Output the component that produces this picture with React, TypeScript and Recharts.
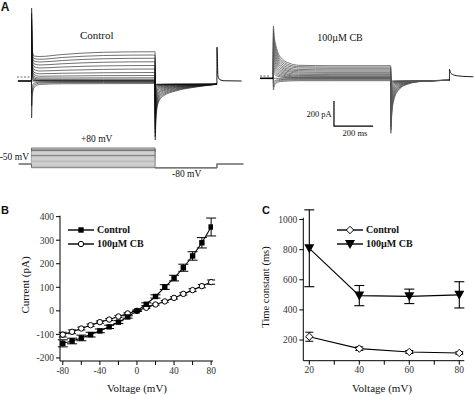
import React from 'react';
import { LineChart, Line, XAxis, YAxis, ErrorBar } from 'recharts';

const SERIF = "'Liberation Serif', 'Times New Roman', serif";
const SANS = "'Liberation Sans', Arial, sans-serif";

// ---------- panel A: current traces (pA, relative to holding) ----------
const stepVoltages = [80, 70, 60, 50, 40, 30, 20, 10, 0, -10, -20, -30, -40, -50, -60, -70, -80];

const ctlStepT = [0, 0.4, 4, 12, 40, 150, 350, 600];
const ctlStep = [
  [0, 584, 250, 200, 196, 212, 230, 234],
  [0, 540, 228, 180, 174, 188, 204, 208],
  [0, 495, 205, 160, 152, 164, 178, 182],
  [0, 450, 182, 138, 128, 138, 150, 154],
  [0, 405, 160, 115, 104, 112, 121, 124],
  [0, 360, 138, 92, 80, 86, 93, 96],
  [0, 315, 116, 70, 58, 62, 66, 68],
  [0, 270, 96, 52, 38, 40, 43, 44],
  [0, 225, 78, 36, 24, 24, 25, 26],
  [0, 180, 60, 24, 14, 13, 14, 14],
  [0, 135, 44, 14, 7, 6, 6, 6],
  [0, 90, 28, 7, 3, 2, 2, 2],
  [0, 45, 14, 3, 1, 0, 0, 0],
  [0, 0, 0, 0, 0, 0, 0, 0],
  [0, -100, -44, -18, -9, -7, -6, -6],
  [0, -200, -84, -34, -17, -13, -12, -12],
  [0, -296, -124, -52, -27, -22, -21, -20],
];
const ctlTailT = [600.4, 604, 615, 640, 700, 800, 900];
const ctlTail = [
  [-472, -300, -176, -120, -80, -48, -26],
  [-445, -275, -162, -110, -74, -45, -26],
  [-415, -250, -148, -100, -68, -42, -26],
  [-385, -225, -134, -90, -62, -40, -26],
  [-355, -200, -120, -80, -56, -38, -26],
  [-325, -178, -106, -72, -51, -36, -26],
  [-295, -156, -94, -64, -46, -34, -26],
  [-265, -135, -82, -56, -42, -32, -26],
  [-235, -116, -70, -49, -38, -30, -26],
  [-205, -98, -60, -43, -34, -29, -26],
  [-175, -82, -51, -38, -31, -28, -26],
  [-145, -68, -43, -33, -29, -27, -26],
  [-115, -55, -37, -30, -27, -26, -26],
  [-85, -44, -32, -28, -26, -26, -26],
  [-60, -36, -29, -27, -26, -26, -26],
  [-40, -30, -27, -26, -26, -26, -26],
  [-26, -26, -26, -26, -26, -26, -26],
];
const ctlPreT = [-66, 0];
const ctlPre = [0, 0];
const ctlDashT = [-70, -8];
const ctlDash = [32, 32];
const ctlPostT = [900, 900.4, 905, 915, 935, 1020];
const ctlPost = [-26, 270, 40, 10, 2, 0];

const cbStepT = [0, 0.4, 4, 10, 25, 50, 80, 130, 300, 600];
const cbStep = [
  [0, 418, 340, 285, 200, 148, 122, 104, 101, 101],
  [0, 390, 310, 260, 182, 134, 108, 93, 90, 90],
  [0, 360, 285, 238, 164, 120, 96, 83, 80, 80],
  [0, 330, 258, 214, 146, 106, 83, 71, 68, 68],
  [0, 300, 232, 190, 128, 92, 72, 61, 58, 58],
  [0, 270, 205, 168, 112, 80, 61, 51, 48, 48],
  [0, 240, 180, 146, 96, 68, 52, 42, 40, 40],
  [0, 210, 155, 124, 80, 56, 41, 32, 30, 30],
  [0, 180, 130, 102, 66, 45, 31, 23, 21, 21],
  [0, 150, 105, 82, 52, 35, 23, 16, 14, 14],
  [0, 120, 82, 62, 38, 25, 15, 9, 8, 8],
  [0, 90, 60, 44, 26, 16, 9, 5, 4, 4],
  [0, 60, 38, 27, 15, 8, 4, 2, 1, 1],
  [0, 0, 0, 0, 0, 0, 0, 0, 0, 0],
  [0, -40, -25, -18, -12, -9, -7, -6, -6, -6],
  [0, -70, -45, -30, -20, -15, -13, -12, -12, -12],
  [0, -94, -65, -45, -30, -24, -21, -19, -19, -19],
];
const cbTailT = [600.4, 605, 615, 640, 690, 760, 900];
const cbTail = [
  [-440, -300, -180, -94, -45, -25, -16],
  [-412, -278, -166, -87, -42, -24, -16],
  [-385, -256, -152, -80, -40, -24, -16],
  [-357, -234, -138, -73, -38, -23, -16],
  [-330, -212, -124, -66, -36, -23, -16],
  [-302, -190, -110, -59, -34, -22, -16],
  [-275, -168, -96, -52, -32, -22, -16],
  [-247, -146, -82, -46, -30, -21, -16],
  [-220, -124, -70, -40, -28, -21, -16],
  [-192, -104, -60, -36, -27, -21, -16],
  [-165, -86, -50, -32, -26, -21, -16],
  [-137, -70, -42, -29, -25, -21, -16],
  [-110, -56, -36, -27, -24, -21, -16],
  [-82, -44, -30, -25, -23, -21, -16],
  [-55, -34, -26, -23, -22, -20, -16],
  [-35, -26, -23, -22, -21, -20, -16],
  [-22, -21, -21, -21, -20, -20, -16],
];
const cbPreT = [-68, 0];
const cbPre = [0, 0];
const cbDashT = [-68, -17];
const cbDash = [18, 18];
const cbPostT = [900, 900.4, 905, 915, 940, 990, 1022];
const cbPost = [-16, 72, 45, 32, 20, 14, 12];

// scale bar: 200 pA / 200 ms
const scaleBarOrigin = { t: 310, v: -382 };
const scaleBarPA = 200;
const scaleBarMS = 200;

// voltage protocol (mV)
const protoT = [-61, 0, 0, 600, 600, 900, 900, 1027];
const holdingMV = -50;
const tailMV = -80;

// ---------- panel B: I-V ----------
const ivVoltage = [-80, -70, -60, -50, -40, -30, -20, -10, 0, 10, 20, 30, 40, 50, 60, 70, 80];
const ivControl = [-138, -128, -115, -101, -85, -68, -48, -26, 0, 28, 61, 101, 139, 183, 233, 289, 356];
const ivControlErr = [15, 12, 12, 10, 8, 7, 6, 5, 3, 6, 7, 10, 12, 15, 18, 22, 38];
const ivCB = [-101, -89, -75, -61, -48, -37, -24, -11, 0, 13, 27, 40, 55, 72, 88, 105, 122];
const ivCBErr = [10, 8, 6, 5, 5, 4, 4, 3, 3, 3, 3, 4, 5, 5, 6, 7, 9];
const ivXTicks = [-80, -60, -40, -20, 0, 20, 40, 60, 80];
const ivYTicks = [-200, -100, 0, 100, 200, 300, 400];

// ---------- panel C: time constants ----------
const tauVoltage = [20, 40, 60, 80];
const tauControl = [222, 143, 121, 114];
const tauControlErr = [30, 12, 10, 8];
const tauCB = [809, 495, 490, 500];
const tauCBErr = [255, 67, 48, 87];
const tauXTicks = [20, 30, 40, 50, 60, 70, 80];
const tauYTicks = [200, 400, 600, 800, 1000];

const pts = (ts: number[], vs: number[]) => ts.map((t, i) => ({ t, v: vs[i] }));

const ivRows = ivVoltage.map((v, i) => ({
  v, ctl: ivControl[i], ctlErr: ivControlErr[i], cb: ivCB[i], cbErr: ivCBErr[i],
}));
const tauRows = tauVoltage.map((v, i) => ({
  v, ctl: tauControl[i], ctlErr: tauControlErr[i], cb: tauCB[i], cbErr: tauCBErr[i],
}));

function Txt({ x, y, size, children, anchor = 'middle', rotate = false, bold = false, family = SERIF }: any) {
  const tx = anchor === 'middle' ? '-50%' : anchor === 'end' ? '-100%' : '0';
  return (
    <div style={{
      position: 'absolute', left: x, top: y, fontSize: size, fontFamily: family, lineHeight: 1,
      fontWeight: bold ? 'bold' : 'normal', color: '#111', whiteSpace: 'nowrap',
      transform: `translate(${tx}, -50%)${rotate ? ' rotate(-90deg)' : ''}`,
      transformOrigin: rotate ? '50% 50%' : undefined,
    }}>{children}</div>
  );
}

const hidden = { hide: true, type: 'number' as const, allowDataOverflow: true };

function TraceChart({ left, width, domainT, domainV, stepT, step, tailT, tail, preT, pre, dashT, dash, postT, post, stroke, sw, scale }: any) {
  return (
    <div style={{ position: 'absolute', left, top: 0 }}>
      <LineChart width={width} height={150} margin={{ top: 0, right: 0, bottom: 0, left: 0 }}>
        <XAxis dataKey="t" domain={domainT} {...hidden} />
        <YAxis domain={domainV} {...hidden} />
        {step.map((row: number[], i: number) => (
          <Line key={i} data={[...pts(stepT, row), ...pts(tailT, tail[i])]} dataKey="v" type="monotone"
            stroke={stroke} strokeWidth={sw} dot={false} activeDot={false} isAnimationActive={false} />
        ))}
        <Line data={pts(preT, pre)} dataKey="v" stroke="#000" strokeWidth={1.6} dot={false} isAnimationActive={false} />
        <Line data={pts(dashT, dash)} dataKey="v" stroke="#444" strokeWidth={0.8} strokeDasharray="2 1.5" dot={false} isAnimationActive={false} />
        <Line data={pts(postT, post)} dataKey="v" type="monotone" stroke="#000" strokeWidth={0.9} dot={false} isAnimationActive={false} />
        {scale && (
          <Line data={[
            { t: scale.t, v: scale.v + scaleBarPA },
            { t: scale.t, v: scale.v },
            { t: scale.t + scaleBarMS, v: scale.v },
          ]} dataKey="v" stroke="#000" strokeWidth={1.2} dot={false} isAnimationActive={false} />
        )}
      </LineChart>
    </div>
  );
}

function ProtocolChart() {
  return (
    <div style={{ position: 'absolute', left: 0, top: 135 }}>
      <LineChart width={245} height={40} margin={{ top: 0, right: 0, bottom: 0, left: 0 }}>
        <XAxis dataKey="t" domain={[-152.9, 1036.4]} {...hidden} />
        <YAxis domain={[-139.4, 185.8]} {...hidden} />
        {stepVoltages.map((mv, i) => {
          const vals = [holdingMV, holdingMV, mv, mv, tailMV, tailMV, holdingMV, holdingMV];
          const edge = i < 3 || i === 6 || i === stepVoltages.length - 1;
          return (
            <Line key={mv} data={pts(protoT, vals)} dataKey="v" stroke={edge ? '#666' : '#b0b0b0'}
              strokeWidth={0.9} dot={false} isAnimationActive={false} />
          );
        })}
      </LineChart>
    </div>
  );
}

const axisTick = { fontSize: 9.5, fill: '#333', fontFamily: SERIF };
const axisLine = { stroke: '#000', strokeWidth: 1 };

const Square = (p: any) => <rect key={p.index} x={p.cx - 2.7} y={p.cy - 2.7} width={5.4} height={5.4} fill="#000" />;
const Circle = (p: any) => <circle key={p.index} cx={p.cx} cy={p.cy} r={2.7} fill="#fff" stroke="#000" strokeWidth={1} />;
const Diamond = (p: any) => (
  <path key={p.index} d={`M${p.cx},${p.cy - 3.7}L${p.cx + 3.7},${p.cy}L${p.cx},${p.cy + 3.7}L${p.cx - 3.7},${p.cy}Z`}
    fill="#fff" stroke="#000" strokeWidth={1} />
);
const TriDown = (p: any) => (
  <path key={p.index} d={`M${p.cx - 5},${p.cy - 4}L${p.cx + 5},${p.cy - 4}L${p.cx},${p.cy + 5}Z`} fill="#000" />
);

function IVChart() {
  return (
    <div style={{ position: 'absolute', left: 0, top: 200 }}>
      <LineChart width={228} height={191} data={ivRows} margin={{ top: 15.7, right: 15, bottom: 0, left: 0 }}>
        <XAxis dataKey="v" type="number" domain={[-83, 82]} ticks={ivXTicks} allowDataOverflow
          tickFormatter={(v: number) => (v % 40 === 0 ? String(v) : '')}
          axisLine={axisLine} tickLine={axisLine} tickSize={4} tick={axisTick} height={30} interval={0} />
        <YAxis type="number" domain={[-213, 404]} ticks={ivYTicks} allowDataOverflow width={60}
          axisLine={axisLine} tickLine={axisLine} tickSize={4} tick={axisTick} interval={0} />
        <Line dataKey="cb" stroke="#000" strokeWidth={1.1} dot={Circle} activeDot={false} isAnimationActive={false}>
          <ErrorBar dataKey="cbErr" width={4} stroke="#000" strokeWidth={1} />
        </Line>
        <Line dataKey="ctl" stroke="#000" strokeWidth={1.1} dot={Square} activeDot={false} isAnimationActive={false}>
          <ErrorBar dataKey="ctlErr" width={5} stroke="#000" strokeWidth={1} />
        </Line>
      </LineChart>
    </div>
  );
}

function TauChart() {
  return (
    <div style={{ position: 'absolute', left: 240, top: 200 }}>
      <LineChart width={234.3} height={190.7} data={tauRows} margin={{ top: 17.7, right: 10, bottom: 0, left: 0 }}>
        <XAxis dataKey="v" type="number" domain={[17.6, 82]} ticks={tauXTicks} allowDataOverflow
          tickFormatter={(v: number) => (v % 20 === 0 ? String(v) : '')}
          axisLine={axisLine} tickLine={axisLine} tickSize={4} tick={axisTick} height={30} interval={0} />
        <YAxis type="number" domain={[63, 1012]} ticks={tauYTicks} allowDataOverflow width={63.3}
          axisLine={axisLine} tickLine={axisLine} tickSize={4} tick={axisTick} interval={0} />
        <Line dataKey="cb" stroke="#000" strokeWidth={1.1} dot={TriDown} activeDot={false} isAnimationActive={false}>
          <ErrorBar dataKey="cbErr" width={5} stroke="#000" strokeWidth={1.1} />
        </Line>
        <Line dataKey="ctl" stroke="#000" strokeWidth={1.1} dot={Diamond} activeDot={false} isAnimationActive={false}>
          <ErrorBar dataKey="ctlErr" width={4} stroke="#000" strokeWidth={1} />
        </Line>
      </LineChart>
    </div>
  );
}

function LegendRow({ x, y, marker, label }: any) {
  return (
    <>
      <svg style={{ position: 'absolute', left: x, top: y - 6 }} width={26} height={12}>
        <line x1={0} y1={6} x2={26} y2={6} stroke="#000" strokeWidth={1.4} />
        {marker({ cx: 13, cy: 6, index: 0 })}
      </svg>
      <Txt x={x + 29} y={y} size={10} anchor="start" bold>{label}</Txt>
    </>
  );
}

export default function App() {
  return (
    <div style={{ position: 'absolute', left: 0, top: 0, width: 474, height: 395, background: '#fff', overflow: 'hidden' }}>
      <TraceChart left={0} width={245} domainT={[-152.9, 1036.4]} domainV={[-552, 648]}
        stepT={ctlStepT} step={ctlStep} tailT={ctlTailT} tail={ctlTail}
        preT={ctlPreT} pre={ctlPre} dashT={ctlDashT} dash={ctlDash} postT={ctlPostT} post={ctlPost}
        stroke="#111" sw={0.6} />
      <TraceChart left={250} width={224} domainT={[-119.1, 1025.5]} domainV={[-573.6, 626.4]}
        stepT={cbStepT} step={cbStep} tailT={cbTailT} tail={cbTail}
        preT={cbPreT} pre={cbPre} dashT={cbDashT} dash={cbDash} postT={cbPostT} post={cbPost}
        stroke="#555" sw={0.8} scale={scaleBarOrigin} />
      <ProtocolChart />
      <IVChart />
      <TauChart />

      <Txt x={5} y={7} size={12} bold family={SANS}>A</Txt>
      <Txt x={96.7} y={35} size={11}>Control</Txt>
      <Txt x={340} y={38} size={10}>100µM CB</Txt>
      <Txt x={96.7} y={140} size={9.5}>+80 mV</Txt>
      <Txt x={29} y={158} size={9.5} anchor="end">-50 mV</Txt>
      <Txt x={186.7} y={174.5} size={9.5}>-80 mV</Txt>
      <Txt x={331.7} y={114} size={8.5} anchor="end">200 pA</Txt>
      <Txt x={355} y={132.5} size={8.5}>200 ms</Txt>

      <Txt x={5} y={210} size={11} bold family={SANS}>B</Txt>
      <Txt x={25} y={285} size={11} rotate>Current (pA)</Txt>
      <Txt x={137} y={388} size={11}>Voltage (mV)</Txt>
      <LegendRow x={68} y={230} marker={Square} label="Control" />
      <LegendRow x={68} y={244.3} marker={Circle} label="100µM CB" />

      <Txt x={266} y={210} size={11} bold family={SANS}>C</Txt>
      <Txt x={266} y={287} size={10.5} rotate>Time constant (ms)</Txt>
      <Txt x={382} y={388} size={11}>Voltage (mV)</Txt>
      <LegendRow x={337} y={230} marker={Diamond} label="Control" />
      <LegendRow x={337} y={244.3} marker={TriDown} label="100µM CB" />
    </div>
  );
}
